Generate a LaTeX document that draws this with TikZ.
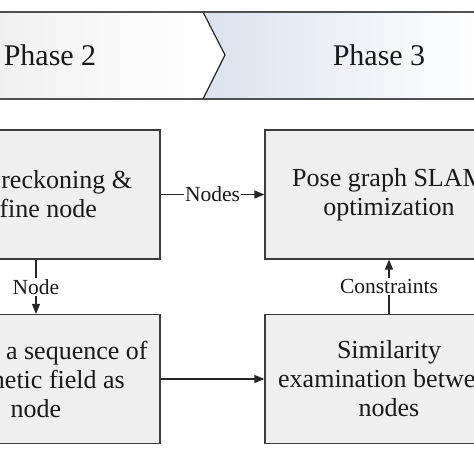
\documentclass[tikz,border=0pt]{standalone}
\usepackage{fontspec}
\setmainfont{Liberation Serif}
\usetikzlibrary{arrows.meta}
\definecolor{boxfill}{HTML}{EFEFEF}
\definecolor{boxline}{HTML}{3C3C3C}
\definecolor{bandline}{HTML}{505050}
\definecolor{bandblue}{HTML}{DCE2EE}

\begin{document}
\begin{tikzpicture}[x=1pt,y=-1pt,>={Triangle[length=10pt,width=8pt]},
		box/.style={draw=boxline,fill=boxfill,line width=1.2pt,minimum width=248pt,
			minimum height=129pt,align=center,inner sep=0pt,
			font=\fontsize{26}{29}\selectfont,text=black!90},
		lbl/.style={fill=white,inner sep=1.5pt,font=\fontsize{21.5}{24}\selectfont,text=black!90},
		phase/.style={font=\fontsize{30}{34}\selectfont,text=black!90}]
			\useasboundingbox (0,0) rectangle (474,474);
			\clip (0,0) rectangle (474,474);

			% phase band
			\shade[left color=black!6,right color=white] (-10,12) rectangle (203,99);
			\shade[left color=bandblue,right color=white] (203,12) -- (225,55) -- (203,99) -- (484,99) -- (484,12) -- cycle;
			\draw[bandline,line width=1.3pt] (-10,12) -- (484,12);
			\draw[bandline,line width=1.3pt] (-10,99) -- (484,99);
			\draw[black!85,line width=1.2pt] (203,12) -- (225,55) -- (203,99);

			\node[phase] (p2) at (50,55) {Phase 2};
			\node[phase] (p3) at (379,55) {Phase 3};

			% boxes
			\node[box] (dr) at (36,194.5) {Dead reckoning \&\\define node};
			\node[box] (pg) at (389,194.5) {Pose graph SLAM\\optimization};
			\node[box] (seq) at (36,379) {Regard a sequence of\\magnetic field as\\node};
			\node[box] (sim) at (389,379) {Similarity\\examination between\\nodes};

			% connectors
			\draw[->,line width=1.2pt,black!85] (dr) -- node[lbl]{Nodes} (pg);
			\draw[->,line width=1.2pt,black!85] (dr) -- node[lbl]{Node} (seq);
			\draw[->,line width=1.2pt,black!85] (seq) -- (sim);
			\draw[->,line width=1.2pt,black!85] (sim) -- node[lbl]{Constraints} (pg);
		\end{tikzpicture}
\end{document}
